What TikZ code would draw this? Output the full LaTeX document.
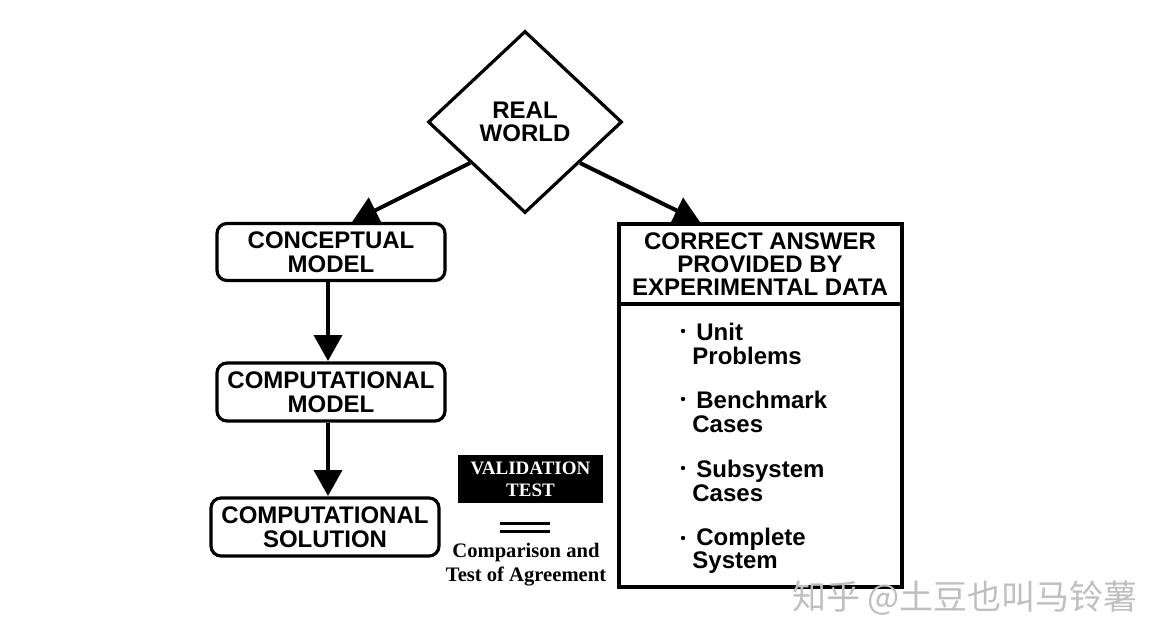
\documentclass[tikz,border=0pt]{standalone}
\usepackage{fontspec}
\setmainfont{Liberation Sans}
\newfontfamily\serifb{Liberation Serif}
\newfontfamily\cjk{Noto Sans CJK SC}
\usetikzlibrary{shapes.geometric,arrows.meta}
\begin{document}
\begin{tikzpicture}[x=0.5pt,y=-0.5pt,
  box/.style={draw,line width=1.6pt,rounded corners=5pt,font=\bfseries\fontsize{12}{12}\selectfont,align=center,inner sep=0pt},
  arr/.style={line width=2pt,-{Triangle[length=13pt,width=14pt]}},
  bul/.style={anchor=west,align=left,inner sep=0pt,font=\bfseries\fontsize{12}{11.7}\selectfont},
  dot/.style={circle,fill=black,inner sep=0pt,minimum size=2.2pt}]
\useasboundingbox (0,0) rectangle (1170,643);
\node[draw,diamond,line width=1.6pt,minimum width=97pt,minimum height=91pt,inner sep=0pt,font=\bfseries\fontsize{12}{11.5}\selectfont,align=center] (rw) at (525,122) {REAL\\WORLD};
\node[box,minimum width=114pt,minimum height=28.5pt] (cm) at (331,252) {CONCEPTUAL\\MODEL};
\node[box,minimum width=114pt,minimum height=29pt] (pm) at (331,392) {COMPUTATIONAL\\MODEL};
\node[box,minimum width=114pt,minimum height=29pt] (ps) at (325,527) {COMPUTATIONAL\\SOLUTION};
\node[draw,line width=1.6pt,minimum width=141.5pt,minimum height=181.5pt,inner sep=0pt] (rb) at (760.5,405.5) {};
\coordinate (d1) at (619,304); \coordinate (d2) at (902,304);
\draw[line width=1.6pt] (d1) -- (d2);
\node[font=\bfseries\fontsize{12}{11.5}\selectfont,align=center] (ca) at (760,264) {CORRECT ANSWER\\PROVIDED BY\\EXPERIMENTAL DATA};
\coordinate (a1) at (470,163); \coordinate (a1e) at (352,222);
\coordinate (a2) at (580,163); \coordinate (a2e) at (700,222);
\draw[arr] (a1) -- (a1e);
\draw[arr] (a2) -- (a2e);
\draw[arr] (cm.south -| 328,0) -- (328,361);
\draw[arr] (pm.south -| 328,0) -- (328,496);
\node[fill=black,text=white,minimum width=72.5pt,minimum height=24pt,inner sep=0pt,align=center,font=\serifb\bfseries\fontsize{9.5}{11}\selectfont] (vt) at (530.5,479) {VALIDATION\\TEST};
\coordinate (e1) at (500,523); \coordinate (e2) at (550,523);
\coordinate (e3) at (500,531); \coordinate (e4) at (550,531);
\draw[line width=1.5pt] (e1) -- (e2) (e3) -- (e4);
\node[align=center,font=\serifb\bfseries\fontsize{10.3}{12}\selectfont] (cmp) at (526,565) {Comparison and\\Test of Agreement};
\node[bul] (b1) at (692,344) {\hspace*{2pt}Unit\\Problems};
\node[bul] (b2) at (692,412) {\hspace*{2pt}Benchmark\\Cases};
\node[bul] (b3) at (692,481) {\hspace*{2pt}Subsystem\\Cases};
\node[bul] (b4) at (692,551) {\hspace*{2pt}Complete\\System};
\node[dot] (p1) at (683,331) {};
\node[dot] (p2) at (683,399) {};
\node[dot] (p3) at (683,468) {};
\node[dot] (p4) at (683,538) {};
\node[text=black!25,font=\cjk\fontsize{17}{18}\selectfont] (wm) at (965,598) {知乎 @土豆也叫马铃薯};
\end{tikzpicture}
\end{document}
